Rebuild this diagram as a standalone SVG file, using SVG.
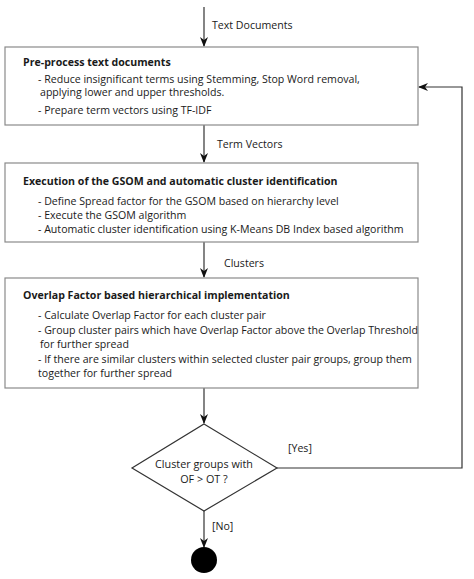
<svg xmlns="http://www.w3.org/2000/svg" width="474" height="579" viewBox="0 0 474 579">
<defs>
<marker id="ah" markerWidth="10" markerHeight="8" refX="9" refY="4" orient="auto" markerUnits="userSpaceOnUse">
<path d="M0,0 L10,4 L0,8 L3,4 Z" fill="#111"/>
</marker>
<style>
.box{fill:#fff;stroke:#8a8a8a;stroke-width:1.2}
.ln{fill:none;stroke:#333;stroke-width:1.2}
text{font-family:"Open Sans","Liberation Sans",sans-serif;fill:#1a1a1a}
.t{font-size:10.6px;font-weight:bold}
.b{font-size:10.6px}
.d{font-size:10.8px}
.lb{font-size:10.6px}
</style>
</defs>
<rect width="474" height="579" fill="#fff"/>
<g id="connectors">
<line class="ln" x1="204" y1="7" x2="204" y2="46" marker-end="url(#ah)"/>
<line class="ln" x1="204" y1="125" x2="204" y2="162" marker-end="url(#ah)"/>
<line class="ln" x1="204" y1="242" x2="204" y2="277" marker-end="url(#ah)"/>
<line class="ln" x1="204" y1="388" x2="204" y2="423" marker-end="url(#ah)"/>
<line class="ln" x1="204" y1="511" x2="204" y2="547" marker-end="url(#ah)"/>
<polyline class="ln" points="277,468 462,468 462,87 419,87" marker-end="url(#ah)"/>
<text class="lb" x="212" y="29">Text Documents</text>
<text class="lb" x="217" y="148">Term Vectors</text>
<text class="lb" x="224" y="267">Clusters</text>
<text class="lb" x="288" y="452">[Yes]</text>
<text class="lb" x="212" y="530">[No]</text>
</g>
<g id="preprocess">
<rect class="box" x="5" y="47" width="413" height="78"/>
<text class="t" x="23" y="66">Pre-process text documents</text>
<text class="b" x="38" y="83">- Reduce insignificant terms using Stemming, Stop Word removal,</text>
<text class="b" x="40" y="96">applying lower and upper thresholds.</text>
<text class="b" x="38" y="114">- Prepare term vectors using TF-IDF</text>
</g>
<g id="gsom">
<rect class="box" x="5" y="163" width="413" height="79"/>
<text class="t" x="23" y="185">Execution of the GSOM and automatic cluster identification</text>
<text class="b" x="38" y="205">- Define Spread factor for the GSOM based on hierarchy level</text>
<text class="b" x="38" y="219">- Execute the GSOM algorithm</text>
<text class="b" x="38" y="233">- Automatic cluster identification using K-Means DB Index based algorithm</text>
</g>
<g id="overlap">
<rect class="box" x="5" y="278" width="413" height="110"/>
<text class="t" x="23" y="299">Overlap Factor based hierarchical implementation</text>
<text class="b" x="38" y="319">- Calculate Overlap Factor for each cluster pair</text>
<text class="b" x="38" y="334">- Group cluster pairs which have Overlap Factor above the Overlap Threshold</text>
<text class="b" x="40" y="348">for further spread</text>
<text class="b" x="38" y="363">- If there are similar clusters within selected cluster pair groups, group them</text>
<text class="b" x="38" y="377">together for further spread</text>
</g>
<g id="decision">
<polygon points="204,424 277,468 204,511 132,468" fill="#fff" stroke="#333" stroke-width="1.2"/>
<text class="d" x="204" y="468" text-anchor="middle">Cluster groups with</text>
<text class="d" x="204" y="483" text-anchor="middle">OF &gt; OT ?</text>
</g>
<g id="end">
<circle cx="204" cy="560" r="13" fill="#000"/>
</g>
</svg>
